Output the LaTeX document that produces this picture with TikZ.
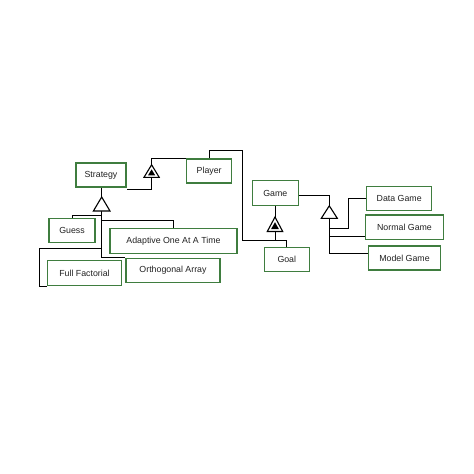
\documentclass[tikz,border=0pt]{standalone}
\usepackage{fontspec}
\setmainfont{Liberation Sans}
\usetikzlibrary{calc}
\definecolor{boxgreen}{HTML}{3F7D3F}
\definecolor{txt}{HTML}{222222}
\begin{document}
\begin{tikzpicture}[x=1pt,y=-1pt,
  box/.style={draw=boxgreen, line width=1.3pt, fill=white, inner sep=0pt,
    font=\fontsize{8.8}{10}\selectfont, text=txt},
  conn/.style={draw=black, line width=1pt},
  tri/.style={draw=black, line width=1.1pt, fill=white, line join=miter},
  triin/.style={fill=black, draw=none}]
\useasboundingbox[fill=white] (0,0) rectangle (474,474);

% boxes
\node[box, minimum width=50, minimum height=24] (strategy) at (101,175) {Strategy};
\node[box, minimum width=45, minimum height=24] (player) at (209.2,171) {Player};
\node[box, minimum width=46, minimum height=24.5] (guess) at (72,230.5) {Guess};
\node[box, minimum width=127, minimum height=24.5] (adaptive) at (173.5,241) {Adaptive One At A Time};
\node[box, minimum width=74, minimum height=25] (ff) at (84.5,273.3) {Full Factorial};
\node[box, minimum width=94, minimum height=24.5] (ortho) at (173,270.5) {Orthogonal Array};
\node[box, minimum width=46, minimum height=24.5] (game) at (275.3,193) {Game};
\node[box, minimum width=45, minimum height=23.5] (goal) at (286.8,259.5) {Goal};
\node[box, minimum width=65, minimum height=24] (data) at (399.2,198.7) {Data Game};
\node[box, minimum width=77.5, minimum height=24.5] (normal) at (404.5,227.2) {Normal Game};
\node[box, minimum width=72.5, minimum height=24] (model) at (404.5,258) {Model Game};

% triangle anchors
\coordinate (t1top) at (101.7,197);   \coordinate (t1base) at (101.7,211);
\coordinate (t2top) at (151.6,164.8); \coordinate (t2base) at (151.6,177.3);
\coordinate (t3top) at (275,217);     \coordinate (t3base) at (275,231.5);
\coordinate (t4top) at (329.3,205.8); \coordinate (t4base) at (329.3,218.3);

% connectors: Strategy generalisation
\draw[conn] (strategy.south -| t1top) -- (t1top);
\draw[conn] (t1base) |- (ortho.north west);
\coordinate (j1) at (101.7,215);
\coordinate (j2) at (101.7,220);
\coordinate (j3) at (101.7,248.3);
\coordinate (ffc) at (39.3,248.3);
\draw[conn] (j1) -| (guess.north);
\draw[conn] (j2) -| (adaptive.north);
\draw[conn] (j3) -- (ffc) |- (ff.south west);

% Strategy - Player aggregation
\draw[conn] (t2base) |- ($(strategy.south east)+(0,1.5)$);
\draw[conn] (t2top) |- (player.north west);

% Player - Goal
\coordinate (pg1) at (242.3,150);
\coordinate (pg2) at (275,240.5);
\draw[conn] (player.north) |- (pg1) |- (pg2);
\draw[conn] (t3base) -- (pg2) -| (goal.north);
\draw[conn] (game.south -| t3top) -- (t3top);

% Game generalisation
\draw[conn] ($(game.east)+(0,2)$) -| (t4top);
\coordinate (k1) at (329.3,228.3);
\coordinate (k2) at (348.3,228.3);
\coordinate (k3) at (329.3,236);
\coordinate (k4) at (329.3,253.3);
\draw[conn] (t4base) -- (k4) -- (model.west |- k4);
\draw[conn] (k1) -- (k2) |- (data.west);
\draw[conn] (k3) -- (normal.west |- k3);

% triangles
\draw[tri] (t1top) -- ++(8.3,14) -- ++(-16.6,0) -- cycle;
\draw[tri] (t4top) -- ++(8,12.5) -- ++(-16,0) -- cycle;
\draw[tri] (t2top) -- ++(7.6,12.5) -- ++(-15.2,0) -- cycle;
\fill[triin] ($(t2top)+(0,4.6)$) -- ++(3.6,6) -- ++(-7.2,0) -- cycle;
\draw[tri] (t3top) -- ++(7.7,14.5) -- ++(-15.4,0) -- cycle;
\fill[triin] ($(t3top)+(0,5.2)$) -- ++(4,7) -- ++(-8,0) -- cycle;
\end{tikzpicture}
\end{document}
